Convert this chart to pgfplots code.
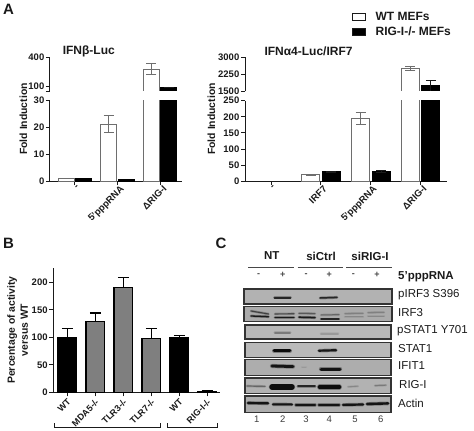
\documentclass[border=0pt]{standalone}
\usepackage{fontspec}
\setmainfont{Liberation Sans}
\usepackage{pgfplots}
\pgfplotsset{compat=1.18}
\definecolor{ink}{HTML}{1A1A1A}
\definecolor{edge}{HTML}{6E6E6E}
\definecolor{midgray}{HTML}{7F7F7F}
\newcommand{\fs}[1]{\fontsize{#1}{#1}\selectfont}
\pgfplotsset{
  base/.style={scale only axis, clip=true, axis line style={ink,line width=1pt},
    tick style={ink,line width=1pt}, tick align=outside, major tick length=4pt,
    minor tick length=0pt, /pgf/number format/assume math mode=true,
    /pgf/number format/1000 sep={},
    ticklabel style={font=\bfseries\fs{9.5},text=ink,inner sep=1.5pt},
    y label style={font=\bfseries\fs{10.4},text=ink},
    axis y line*=left},
  lower/.style={base, axis x line*=bottom,
    x tick label style={rotate=45,anchor=north east,font=\bfseries\fs{9.5},inner sep=1pt,xshift=3pt}},
  upper/.style={base, axis x line=none,
    title style={font=\bfseries\fs{12},text=ink,anchor=center}},
  wb/.style={ybar, bar width=16pt, bar shift=0pt, fill=white, draw=edge, line width=1pt,
    error bars/y dir=both, error bars/y explicit,
    error bars/error bar style={edge,line width=.8pt},
    error bars/error mark options={edge,rotate=90,mark size=5pt,line width=.8pt}},
  kb/.style={ybar, bar width=16pt, bar shift=0pt, fill=black, draw=black, line width=1pt,
    error bars/y dir=both, error bars/y explicit,
    error bars/error bar style={ink,line width=.8pt},
    error bars/error mark options={ink,rotate=90,mark size=5pt,line width=.8pt}},
  wr/.style={wb, bar width=18pt},
  kr/.style={kb, bar width=18pt},
  bb/.style={ybar, bar width=18.5pt, bar shift=0pt, draw=black, line width=1.4pt,
    error bars/y dir=plus, error bars/y explicit,
    error bars/error bar style={black,line width=1.3pt},
    error bars/error mark options={black,rotate=90,mark size=5.5pt,line width=1.3pt}},
}
% blot helpers
\newcommand{\panel}[5]{\addplot[fill=#5,draw=black!80,line width=1.1pt] coordinates {(#1,#2)(#3,#2)(#3,#4)(#1,#4)} --cycle;}
\newcommand{\band}[6]{%
  \addplot[#6,opacity=.35,line width=#5pt+1.4pt,line cap=round] coordinates {(#1,#2)(#3,#4)};
  \addplot[#6,line width=#5pt,line cap=round] coordinates {(#1,#2)(#3,#4)};}
\begin{document}
\begin{tikzpicture}
\path[use as bounding box] (0pt,0pt) rectangle (474pt,431pt);

% ---- A left, lower segment
\begin{axis}[lower, at={(50pt,249.7pt)}, anchor=south west, width=132pt, height=80.6pt,
  xmin=-0.585, xmax=2.506, ymin=0, ymax=30,
  xtick={0,1,2}, xticklabels={-,5'pppRNA,ΔRIG-I}, ytick={0,10,20,30},
  ylabel={Fold Induction}, y label style={at={(axis description cs:-0.145,0.773)},anchor=south}]
\addplot[wb] coordinates {(-0.21,1) (0.79,21.3) +- (0,3.2) (1.79,277)};
\addplot[kb] coordinates {(0.2,0.9) (1.2,0.7) (2.2,94)};
\end{axis}
% ---- A left, upper segment
\begin{axis}[upper, at={(50pt,339.7pt)}, anchor=south west, width=132pt, height=34pt,
  xmin=-0.585, xmax=2.506, ymin=53, ymax=400, ytick={100,400}, extra y ticks={53},
  extra y tick labels={},
  title={IFNβ-Luc}, title style={at={(axis description cs:0.294,1.0)}}]
\addplot[wb] coordinates {(1.79,277) +- (0,56)};
\addplot[kb] coordinates {(2.2,94) +- (0,3)};
\end{axis}

% ---- A right, lower segment
\begin{axis}[lower, at={(245pt,249.7pt)}, anchor=south west, width=201.7pt, height=80.6pt,
  xmin=-0.522, xmax=3.528, ymin=0, ymax=250,
  xtick={0,1,2,3}, xticklabels={-,IRF7,5'pppRNA,ΔRIG-I}, ytick={0,50,100,150,200,250},
  ylabel={Fold Induction}, y label style={at={(axis description cs:-0.13,0.773)},anchor=south}]
\addplot[wr] coordinates {(0.8,20) +- (0,1) (1.8,195) +- (0,20) (2.8,2514)};
\addplot[kr] coordinates {(1.21,30) +- (0,1) (2.21,31) +- (0,2) (3.21,1734)};
\end{axis}
% ---- A right, upper segment (holds the legend)
\begin{axis}[upper, at={(245pt,339.7pt)}, anchor=south west, width=201.7pt, height=34pt,
  xmin=-0.522, xmax=3.528, ymin=1500, ymax=3000, ytick={1500,2250,3000},
  title={IFNα4-Luc/IRF7}, title style={at={(axis description cs:0.315,1.0)}},
  legend style={at={(axis description cs:0.525,2.43)},anchor=north west,draw=none,fill=none,
    font=\bfseries\fs{12},text=ink,row sep=1.2pt,inner sep=1pt},
  legend cell align=left,
  legend image code/.code={\draw[#1,draw=ink,line width=1pt] (0pt,-3.5pt) rectangle (13pt,3.5pt); \path (20.5pt,0pt);}]
\addplot[wr] coordinates {(2.8,2514) +- (0,103)};
\addlegendentry{WT MEFs}
\addplot[kr] coordinates {(3.21,1734) +- (0,233)};
\addlegendentry{RIG-I-/- MEFs}
\end{axis}

% ---- B
\begin{axis}[lower, at={(53.3pt,38.7pt)}, anchor=south west, width=166.7pt, height=124.6pt,
  xmin=-0.5, xmax=5.454, ymin=0, ymax=226.5,
  xtick={0,1,2,3,4,5}, xticklabels={WT,MDA5-/-,TLR3-/-,TLR7-/-,WT,RIG-I-/-},
  ytick={0,50,100,150,200},
  ylabel={Percentage of activity\\[2.5pt]versus WT},
  y label style={align=center,at={(axis description cs:-0.131,0.5)},anchor=south},
  x tick label style={font=\bfseries\fs{9},xshift=-3.5pt}]
\addplot[bb,fill=black] coordinates {(0,100) +- (0,16) (4,100) +- (0,3) (5,1.5) +- (0,1)};
\addplot[bb,fill=midgray] coordinates {(1,129) +- (0,15) (2,190) +- (0,19) (3,98) +- (0,18)};
\end{axis}

% ---- annotations and the blot, in picture coordinates
\begin{axis}[scale only axis, at={(0pt,0pt)}, anchor=south west, width=474pt, height=431pt,
  xmin=0, xmax=474, ymin=0, ymax=431, y dir=reverse, hide axis, clip=false]
% open the bars at the axis break
\addplot[fill=white,draw=none] coordinates {(141,90.6)(180,90.6)(180,92.5)(141,92.5)} --cycle;
\addplot[fill=white,draw=none] coordinates {(399,90.6)(442,90.6)(442,92.5)(399,92.5)} --cycle;
% B brackets
\addplot[ink,line width=.8pt] coordinates {(54,423)(54,427)(160,427)(160,423)};
\addplot[ink,line width=.8pt] coordinates {(167,423)(167,427)(217,427)(217,423)};
% C header rules
\addplot[ink!80,line width=.8pt] coordinates {(248.3,267.3)(294,267.3)};
\addplot[ink!80,line width=.8pt] coordinates {(297.7,267.3)(343.3,267.3)};
\addplot[ink!80,line width=.8pt] coordinates {(346,267.3)(391.7,267.3)};
% blot panels
\panel{244}{289}{392}{304}{black!30}
\panel{244}{306.7}{392}{321.7}{black!33}
\panel{245}{325}{391}{339}{black!28}
\panel{245}{342.3}{391}{357.3}{black!27}
\panel{245}{359.7}{391}{375.3}{black!32}
\panel{245}{378}{391}{393.7}{black!30}
\panel{245}{396}{391}{412.7}{black!32}
% pIRF3
\band{274.5}{297.7}{290.5}{297.7}{1.6}{black!85}
\band{320}{298}{337}{297.4}{1.5}{black!85}
% IRF3
\band{251}{311}{268.5}{314}{1.1}{black!75}
\band{251}{316}{268.5}{316.7}{1.3}{black!90}
\band{275}{314}{294}{313.7}{1.1}{black!70}
\band{275}{317.7}{294}{317.7}{1.4}{black!90}
\band{299}{313.3}{315}{313.6}{1.1}{black!65}
\band{299}{317.2}{315}{317.6}{1.5}{black!90}
\band{321}{315}{339}{314.6}{1}{black!60}
\band{321}{319}{339}{319}{1.3}{black!85}
\band{345}{313.6}{363}{313.3}{1.1}{black!50}
\band{345}{316.7}{363}{316.7}{1}{black!47}
\band{368}{312.6}{384}{312.3}{1.1}{black!50}
\band{368}{316}{384}{316}{1}{black!47}
% pSTAT1
\band{275}{332.7}{290}{332.7}{1.8}{black!52}
\band{321}{333.8}{338}{333.8}{1.6}{black!40}
% STAT1
\band{274}{350.7}{290}{350.7}{2.6}{black!95}
\band{319}{350.7}{336}{350.2}{2.2}{black!90}
% IFIT1
\band{272}{366}{293}{366.6}{2.8}{black!92}
\band{321}{369}{340}{369}{3}{black!92}
\band{302}{367}{306}{367}{.8}{black!40}
% RIG-I
\band{247}{386}{265}{386.4}{1.2}{black!60}
\band{272}{387}{292}{387}{5.2}{black!95}
\band{298}{386.3}{315}{386.3}{1.8}{black!85}
\band{320}{387}{339}{387}{4.6}{black!95}
\band{348}{386.8}{358}{386.2}{.9}{black!47}
\band{375}{385.6}{386}{385.2}{1}{black!52}
% Actin
\band{248}{403}{268}{403.3}{2.2}{black!92}
\band{273}{404.3}{292}{404.5}{2}{black!92}
\band{296}{404.7}{315}{404.7}{2.2}{black!92}
\band{319}{404.7}{339}{404.7}{2.2}{black!92}
\band{343}{404.9}{363}{404.5}{2.2}{black!92}
\band{367}{404}{388}{403.4}{2.4}{black!92}
% panel letters
\node[font=\bfseries\fs{15},text=ink] at (axis cs:8.5,9.5) {A};
\node[font=\bfseries\fs{15},text=ink] at (axis cs:8.5,243) {B};
\node[font=\bfseries\fs{15},text=ink] at (axis cs:221,243) {C};
% C headers
\node[font=\bfseries\fs{11.5},text=ink] at (axis cs:271.7,256) {NT};
\node[font=\bfseries\fs{11.5},text=ink] at (axis cs:321,256) {siCtrl};
\node[font=\bfseries\fs{11.5},text=ink] at (axis cs:370,256) {siRIG-I};
\node[font=\bfseries\fs{9},text=ink!80] at (axis cs:258.5,275) {-};
\node[font=\bfseries\fs{9},text=ink!80] at (axis cs:282.7,275) {+};
\node[font=\bfseries\fs{9},text=ink!80] at (axis cs:306,275) {-};
\node[font=\bfseries\fs{9},text=ink!80] at (axis cs:329.3,275) {+};
\node[font=\bfseries\fs{9},text=ink!80] at (axis cs:353.3,275) {-};
\node[font=\bfseries\fs{9},text=ink!80] at (axis cs:377,275) {+};
\node[font=\bfseries\fs{11.5},text=ink,anchor=west,inner sep=0pt] at (axis cs:398,277) {5'pppRNA};
% C row labels
\node[font=\fs{11.5},text=ink,anchor=west,inner sep=0pt] at (axis cs:398,294.5) {pIRF3 S396};
\node[font=\fs{11.5},text=ink,anchor=west,inner sep=0pt] at (axis cs:398,312.5) {IRF3};
\node[font=\fs{11.5},text=ink,anchor=west,inner sep=0pt] at (axis cs:397,331) {pSTAT1 Y701};
\node[font=\fs{11.5},text=ink,anchor=west,inner sep=0pt] at (axis cs:398,348.5) {STAT1};
\node[font=\fs{11.5},text=ink,anchor=west,inner sep=0pt] at (axis cs:398,366) {IFIT1};
\node[font=\fs{11.5},text=ink,anchor=west,inner sep=0pt] at (axis cs:399,384.7) {RIG-I};
\node[font=\fs{11.5},text=ink,anchor=west,inner sep=0pt] at (axis cs:398,403.3) {Actin};
% lane numbers
\node[font=\fs{9.5},text=ink!85] at (axis cs:256.7,419.5) {1};
\node[font=\fs{9.5},text=ink!85] at (axis cs:282.7,419.5) {2};
\node[font=\fs{9.5},text=ink!85] at (axis cs:306,419.5) {3};
\node[font=\fs{9.5},text=ink!85] at (axis cs:329.3,419.5) {4};
\node[font=\fs{9.5},text=ink!85] at (axis cs:355,419.5) {5};
\node[font=\fs{9.5},text=ink!85] at (axis cs:380.7,419.5) {6};
\end{axis}
\end{tikzpicture}
\end{document}
